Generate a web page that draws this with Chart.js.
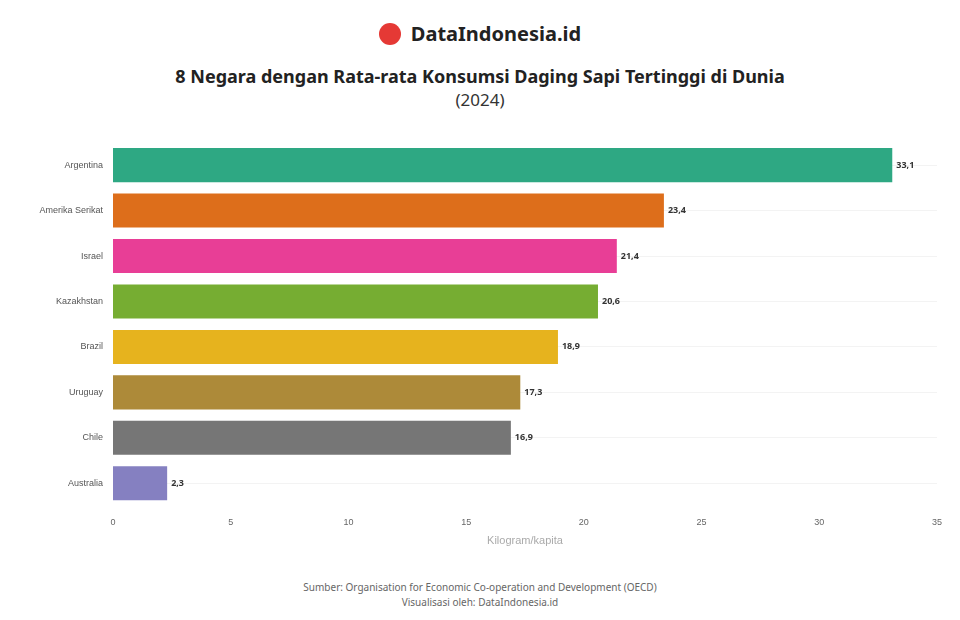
<!DOCTYPE html>
<html><head><meta charset="utf-8">
<script src="https://cdn.jsdelivr.net/npm/chart.js@4"></script>
<style>
body{margin:0;width:960px;height:620px;background:#fff;font-family:"Noto Sans",sans-serif;overflow:hidden}
#hdr{position:absolute;top:20px;left:0;width:960px;text-align:center}
.logo{font:bold 20px "Noto Sans";color:#222;display:inline-flex;align-items:center;gap:10px}
.dot{width:22px;height:22px;border-radius:50%;background:#e53935;display:inline-block}
#t{font:bold 18px "Noto Sans";color:#222;margin-top:14px}
#s{font:17px "Noto Sans";color:#333;margin-top:0px}
#wrap{position:absolute;left:0;top:127px;width:960px;height:425px}
#src{position:absolute;top:580px;width:960px;text-align:center;font:10px "Noto Sans";color:#666;line-height:15px}
</style></head><body>
<div id="hdr"><div class="logo"><span class="dot"></span>DataIndonesia.id</div>
<div id="t">8 Negara dengan Rata-rata Konsumsi Daging Sapi Tertinggi di Dunia</div>
<div id="s">(2024)</div></div>
<div id="wrap"><canvas id="c"></canvas></div>
<div id="src">Sumber: Organisation for Economic Co-operation and Development (OECD)<br>Visualisasi oleh: DataIndonesia.id</div>
<script>
const categories=["Argentina","Amerika Serikat","Israel","Kazakhstan","Brazil","Uruguay","Chile","Australia"];
const values=[33.1,23.4,21.4,20.6,18.9,17.3,16.9,2.3];
const colors=["#2ea883","#dd6e1b","#e83e96","#76ad32","#e6b31e","#ad8a39","#767676","#8580c1"];
const lbl={id:'lbl',afterDatasetsDraw(ch){const x=ch.ctx;x.save();x.font='bold 9px "Noto Sans"';x.fillStyle='#333';x.textBaseline='middle';
ch.getDatasetMeta(0).data.forEach((b,i)=>x.fillText(values[i].toFixed(1).replace('.',','),b.x+4,b.y));x.restore();}};
new Chart(document.getElementById('c'),{type:'bar',data:{labels:categories,datasets:[{data:values,backgroundColor:colors,barPercentage:0.75,categoryPercentage:1}]},
plugins:[lbl],options:{indexAxis:'y',responsive:true,maintainAspectRatio:false,animation:false,
layout:{padding:{top:0,right:23,left:0}},
plugins:{legend:{display:false},tooltip:{enabled:false}},
scales:{x:{min:0,max:35,ticks:{stepSize:5,color:'#666',font:{size:9}},grid:{display:false},border:{display:false},
title:{display:true,text:'Kilogram/kapita',color:'#aaa',font:{size:11}}},
y:{afterFit(s){s.width=113;},ticks:{color:'#555',font:{size:9},padding:10},grid:{color:'#f3f3f3',drawTicks:false,offset:false},border:{display:false}}}}});
</script></body></html>
